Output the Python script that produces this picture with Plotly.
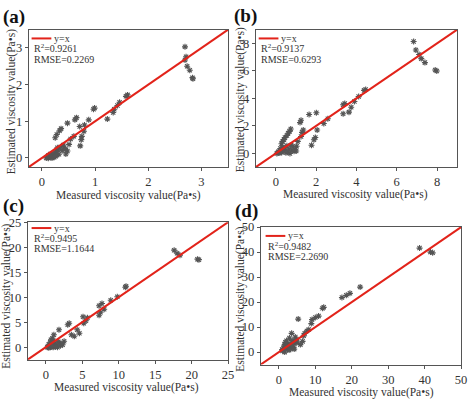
import plotly.graph_objects as go

# ---------------- data ----------------
panel_labels = ["(a)", "(b)", "(c)", "(d)"]
r2_texts = ["0.9261", "0.9137", "0.9495", "0.9482"]
rmse_texts = ["0.2269", "0.6293", "1.1644", "2.2690"]
axis_ranges = [[-0.25, 3.5], [-1, 9], [-2.5, 25], [-5, 50]]
tick_steps = [1, 2, 5, 10]

x_a = [2.69, 2.71, 2.69, 2.73, 2.78, 2.83, 2.84, 1.61, 1.58, 1.46, 1.42, 1.36, 1.34, 1.23,
       0.99, 0.97, 0.88, 0.80, 0.65, 0.62, 0.71, 0.79, 0.75, 0.74, 0.72,
       0.48, 0.33, 0.36, 0.28, 0.25, 0.51, 0.48, 0.45, 0.54, 0.60,
       0.08, 0.10, 0.12, 0.14, 0.15, 0.17, 0.18, 0.20, 0.21, 0.22, 0.24, 0.25, 0.27, 0.28, 0.30,
       0.12, 0.16, 0.19, 0.23, 0.26, 0.29, 0.32, 0.35, 0.38, 0.40, 0.42, 0.44]
y_a = [3.03, 2.76, 2.67, 2.50, 2.39, 2.19, 2.16, 1.72, 1.68, 1.52, 1.43, 1.33, 1.24, 1.06,
       1.36, 1.33, 1.04, 0.90, 1.10, 1.04, 0.86, 0.73, 0.59, 0.50, 0.33,
       0.95, 0.74, 0.80, 0.64, 0.55, 0.37, 0.19, 0.11, 0.52, 0.59,
       0.00, 0.02, -0.01, 0.03, 0.05, 0.02, 0.08, 0.06, 0.10, 0.04, 0.12, 0.15, 0.18, 0.08, 0.22,
       0.07, 0.11, 0.00, 0.02, 0.05, 0.28, 0.10, 0.30, 0.20, 0.35, 0.28, 0.24]

x_b = [6.84, 6.95, 7.11, 7.22, 7.40, 7.91, 7.99, 4.46, 4.38, 4.11, 3.90, 3.74, 3.63, 3.34, 3.42, 3.34,
       2.58, 2.38, 2.05, 1.96, 1.89, 1.77, 2.01, 1.65, 1.25, 1.20, 1.36, 1.30, 1.25, 1.09, 1.03, 1.01,
       0.74, 0.61, 0.45, 0.34, 0.68, 0.55, 0.40, 0.28,
       0.05, 0.10, 0.15, 0.20, 0.25, 0.30, 0.35, 0.40, 0.50, 0.60, 0.70, 0.80, 0.90,
       0.12, 0.22, 0.32, 0.45, 0.55, 0.65, 0.75, 0.85, 0.95]
y_b = [8.14, 7.52, 7.19, 6.89, 6.60, 6.06, 5.99, 4.65, 4.58, 4.13, 3.77, 3.35, 3.00, 2.88, 3.63, 3.54,
       2.52, 2.17, 1.70, 1.16, 0.99, 0.59, 2.95, 2.83, 2.41, 2.24, 1.70, 1.53, 1.23, 0.87, 0.52, 0.17,
       1.77, 1.46, 1.16, 0.87, 1.60, 1.30, 1.00, 0.70,
       0.00, 0.05, 0.10, 0.02, 0.15, 0.08, 0.30, 0.20, 0.05, 0.10, 0.00, 0.25, 0.15,
       0.12, 0.35, 0.45, 0.40, 0.55, 0.30, 0.60, 0.50, 0.30]

x_c = [17.6, 18.0, 18.4, 20.8, 21.0, 10.9, 11.0, 9.8, 8.9, 7.7, 7.3, 8.0, 7.3, 5.7, 5.1, 5.2,
       3.2, 4.3, 3.9, 1.8, 1.1, 0.9, 0.7, 2.5, 2.3, 3.0, 3.5, 4.6, 7.5, 5.5,
       0.2, 0.3, 0.4, 0.5, 0.6, 0.7, 0.8, 0.9, 1.0, 1.1, 1.2, 1.3, 1.5, 1.6, 1.8, 2.0,
       0.4, 0.6, 0.8, 1.0, 1.4, 1.7, 2.2]
y_c = [19.4, 18.8, 18.4, 17.6, 17.5, 12.0, 12.2, 10.1, 9.4, 8.75, 8.3, 7.6, 6.4, 5.9, 6.1, 4.8,
       4.8, 3.5, 2.2, 3.5, 2.5, 1.8, 1.5, 1.2, 0.5, 4.5, 2.5, 2.8, 7.0, 5.3,
       0.0, 0.1, -0.1, 0.2, 0.0, 0.3, 0.1, 0.5, 0.0, 0.2, 0.8, 0.1, 0.4, 0.0, 0.9, 0.3,
       0.6, 1.0, 0.4, 1.3, 0.2, 1.1, 0.7]

x_d = [38.6, 41.6, 42.2, 17.3, 18.5, 19.5, 22.3, 12.3, 12.0, 10.9, 10.0, 9.1, 8.9, 5.3,
       7.7, 7.1, 6.5, 5.9, 3.5, 2.9, 1.8, 1.6, 0.9, 4.5, 3.8, 8.2, 6.8,
       1.0, 1.3, 1.6, 2.0, 2.3, 2.6, 3.0, 3.3, 3.6, 4.0, 4.4, 4.8, 1.5, 2.1, 2.8, 3.4, 4.2, 5.0]
y_d = [41.6, 40.0, 39.7, 21.8, 22.7, 23.5, 26.0, 17.9, 17.5, 14.4, 13.8, 13.0, 11.4, 13.2,
       8.4, 7.5, 4.3, 3.0, 7.5, 5.6, 3.9, 3.0, 1.0, 6.0, 4.5, 9.0, 6.5,
       0.5, 1.5, 0.0, 2.0, 1.0, 3.0, 2.5, 1.5, 4.0, 2.0, 3.5, 5.0, 2.5, 4.5, 0.8, 3.0, 1.2, 4.0]

xs = [x_a, x_b, x_c, x_d]
ys = [y_a, y_b, y_c, y_d]

# ---------------- layout geometry (pixels) ----------------
W, H = 474, 399
boxes = [(29, 231, 23, 163), (259, 463, 23, 163), (28, 231, 219, 359), (264, 467, 224, 364)]
ytitle_pos = [(11, 96), (243, 94), (7, 294), (244, 297)]
xtitle_pos = [(130, 192), (360, 191), (128, 387), (366, 392)]
label_pos = [(14, 10), (249, 9), (14, 203), (250, 208)]
legend_pos = [(32, 32), (262, 32), (32, 225), (269, 233)]

FONT = "Liberation Serif, Times New Roman, serif"
AX = "#555555"
RED = "#e2231a"
MARK = "#555555"

def px(x):
    return x / W

def py(y):
    return 1 - y / H

fig = go.Figure()
layout = dict(width=W, height=H, margin=dict(l=0, r=0, t=0, b=0),
              paper_bgcolor="white", plot_bgcolor="white", showlegend=False,
              font=dict(family=FONT, size=12, color="#333333"))
annotations = []
shapes = []

for i in range(4):
    s = "" if i == 0 else str(i + 1)
    xa, ya = "x" + s, "y" + s
    l, r, t, b = boxes[i]
    lo, hi = axis_ranges[i]
    step = tick_steps[i]
    ticks = [v for v in range(0, int(hi) + 1, step) if v >= lo]
    axis_common = dict(range=[lo, hi], showline=True, mirror=True, linecolor=AX, linewidth=1,
                       ticks="outside", ticklen=3, tickcolor=AX, tickwidth=1,
                       showgrid=False, zeroline=False, tickvals=ticks,
                       tickfont=dict(family=FONT, size=12.5, color="#333333"))
    layout["xaxis" + s] = dict(axis_common, domain=[px(l), px(r)], anchor=ya)
    layout["yaxis" + s] = dict(axis_common, domain=[py(b), py(t)], anchor=xa)

    fig.add_trace(go.Scatter(x=xs[i], y=ys[i], mode="markers", xaxis=xa, yaxis=ya,
                             marker=dict(symbol="asterisk-open", size=5, color=MARK,
                                         line=dict(color=MARK, width=1.1))))
    fig.add_trace(go.Scatter(x=[lo, hi], y=[lo, hi], mode="lines", xaxis=xa, yaxis=ya,
                             line=dict(color=RED, width=2)))

    # axis titles
    annotations.append(dict(x=px(xtitle_pos[i][0]), y=py(xtitle_pos[i][1]), xref="paper", yref="paper",
                            text="Measured viscosity value(Pa\u2022s)", showarrow=False,
                            font=dict(family=FONT, size=11.5, color="#333333"),
                            xanchor="center", yanchor="middle"))
    annotations.append(dict(x=px(ytitle_pos[i][0]), y=py(ytitle_pos[i][1]), xref="paper", yref="paper",
                            text="Estimated viscosity value(Pa\u2022s)", showarrow=False, textangle=-90,
                            font=dict(family=FONT, size=11.5, color="#333333"),
                            xanchor="center", yanchor="middle"))
    annotations.append(dict(x=px(label_pos[i][0]), y=py(label_pos[i][1]), xref="paper", yref="paper",
                            text="<b>" + panel_labels[i] + "</b>", showarrow=False,
                            font=dict(family=FONT, size=19, color="#111111"),
                            xanchor="center", yanchor="middle"))
    # legend block
    lx, ly = legend_pos[i]
    shapes.append(dict(type="line", xref="paper", yref="paper", x0=px(lx), x1=px(lx + 20),
                       y0=py(ly), y1=py(ly), line=dict(color=RED, width=2)))
    annotations.append(dict(x=px(lx + 21), y=py(ly), xref="paper", yref="paper", text="y=x",
                            showarrow=False, xanchor="left", yanchor="middle",
                            font=dict(family=FONT, size=10, color="#333333")))
    annotations.append(dict(x=px(lx), y=py(ly + 10), xref="paper", yref="paper",
                            text="R<sup>2</sup>=" + r2_texts[i],
                            showarrow=False, xanchor="left", yanchor="middle",
                            font=dict(family=FONT, size=10, color="#333333")))
    annotations.append(dict(x=px(lx), y=py(ly + 21), xref="paper", yref="paper",
                            text="RMSE=" + rmse_texts[i],
                            showarrow=False, xanchor="left", yanchor="middle",
                            font=dict(family=FONT, size=10, color="#333333")))

layout["annotations"] = annotations
layout["shapes"] = shapes
fig.update_layout(**layout)
fig.write_html("out.html", config={"displayModeBar": False},
               post_script="document.body.style.margin='0px';document.body.style.overflow='hidden';")
